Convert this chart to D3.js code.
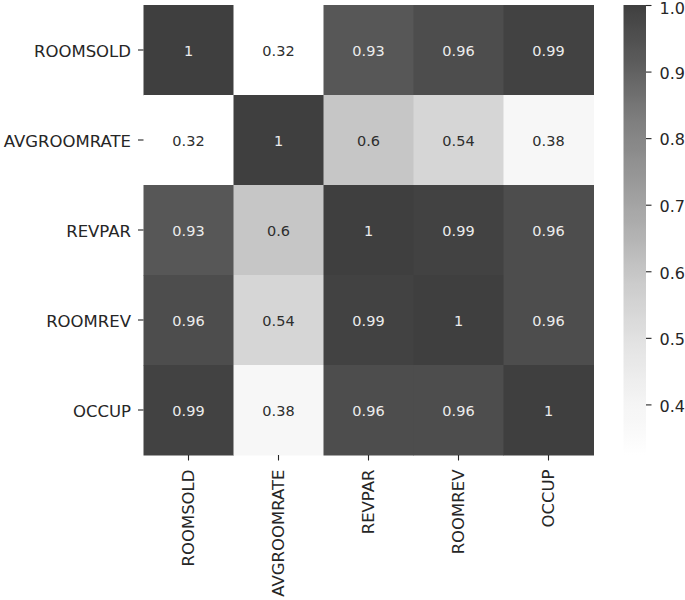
<!DOCTYPE html>
<html>
<head>
<meta charset="utf-8">
<script src="https://cdn.jsdelivr.net/npm/d3@7"></script>
<style>
  html, body { margin: 0; padding: 0; background: #ffffff; }
  svg { display: block; font-family: "DejaVu Sans", sans-serif; }
</style>
</head>
<body>
<svg id="chart" width="685" height="600"></svg>
<script>
// ---- data ----
const labels = ["ROOMSOLD", "AVGROOMRATE", "REVPAR", "ROOMREV", "OCCUP"];
const rowROOMSOLD    = [1, 0.32, 0.93, 0.96, 0.99];
const rowAVGROOMRATE = [0.32, 1, 0.6, 0.54, 0.38];
const rowREVPAR      = [0.93, 0.6, 1, 0.99, 0.96];
const rowROOMREV     = [0.96, 0.54, 0.99, 1, 0.96];
const rowOCCUP       = [0.99, 0.38, 0.96, 0.96, 1];
const colorbarTicks = [0.4, 0.5, 0.6, 0.7, 0.8, 0.9, 1.0];

const matrix = [rowROOMSOLD, rowAVGROOMRATE, rowREVPAR, rowROOMREV, rowOCCUP];
const cells = [];
matrix.forEach((row, r) => row.forEach((v, c) => cells.push({ row: labels[r], col: labels[c], v })));

// ---- layout ----
const svg = d3.select("#chart");
const plotLeft = 143.5, plotTop = 5, plotSize = 450;
const vmin = 0.324, vmax = 1.0;
const tickLen = 5.5;
const textColor = "#262626";

// matplotlib Greys colormap, drawn at alpha 0.75 over white
const greysStops = ["#ffffff", "#f0f0f0", "#d9d9d9", "#bdbdbd", "#969696", "#737373", "#525252", "#252525", "#000000"];
const greys = d3.scaleLinear()
  .domain(d3.range(greysStops.length).map(i => i / (greysStops.length - 1)))
  .range(greysStops)
  .interpolate(d3.interpolateRgb)
  .clamp(true);
const norm = d3.scaleLinear().domain([vmin, vmax]).range([0, 1]).clamp(true);
function colorOf(v) {
  const c = d3.rgb(greys(norm(v)));
  const a = 0.75;
  return d3.rgb(253 - a * (253 - c.r), 253 - a * (253 - c.g), 253 - a * (253 - c.b)).formatHex();
}
function lum(hex) {
  const c = d3.rgb(hex);
  const f = t => { t /= 255; return t <= 0.03928 ? t / 12.92 : Math.pow((t + 0.055) / 1.055, 2.4); };
  return 0.2126 * f(c.r) + 0.7152 * f(c.g) + 0.0722 * f(c.b);
}

const x = d3.scaleBand().domain(labels).range([plotLeft, plotLeft + plotSize]);
const y = d3.scaleBand().domain(labels).range([plotTop, plotTop + plotSize]);

// ---- cells ----
svg.append("g").selectAll("rect").data(cells).join("rect")
  .attr("x", d => x(d.col))
  .attr("y", d => y(d.row))
  .attr("width", x.bandwidth() + 0.5)
  .attr("height", y.bandwidth() + 0.5)
  .attr("fill", d => colorOf(d.v));

svg.append("g").selectAll("text").data(cells).join("text")
  .attr("x", d => x(d.col) + x.bandwidth() / 2)
  .attr("y", d => y(d.row) + y.bandwidth() / 2 + 0.5)
  .attr("text-anchor", "middle")
  .attr("dominant-baseline", "central")
  .attr("font-size", 14.5)
  .attr("fill", d => lum(colorOf(d.v)) > 0.408 ? "#2e2e2e" : "#ececec")
  .text(d => d3.format(".2~g")(d.v));

// ---- axes ----
const yAxis = d3.axisLeft(y).tickSize(tickLen).tickPadding(7);
const gy = svg.append("g").attr("transform", `translate(${plotLeft},0)`).call(yAxis);
gy.select(".domain").remove();
gy.selectAll(".tick line").attr("stroke", textColor).attr("stroke-width", 1.1);
gy.selectAll(".tick text").attr("font-size", 16.5).attr("fill", textColor)
  .attr("font-family", "DejaVu Sans").attr("dy", "0.4em");

const xAxis = d3.axisBottom(x).tickSize(tickLen).tickPadding(9);
const gx = svg.append("g").attr("transform", `translate(0,${plotTop + plotSize})`).call(xAxis);
gx.select(".domain").remove();
gx.selectAll(".tick line").attr("stroke", textColor).attr("stroke-width", 1.1);
gx.selectAll(".tick text")
  .attr("font-size", 16.5).attr("fill", textColor).attr("font-family", "DejaVu Sans")
  .attr("text-anchor", "end")
  .attr("dy", null)
  .attr("dominant-baseline", "central")
  .attr("transform", `translate(0, ${tickLen + 9}) rotate(-90)`)
  .attr("x", 0).attr("y", 0);

// ---- colorbar ----
const cbX = 623.5, cbW = 22.5;
const cbScale = d3.scaleLinear().domain([vmin, vmax]).range([plotTop + plotSize, plotTop]);
const defs = svg.append("defs");
const grad = defs.append("linearGradient").attr("id", "cbgrad")
  .attr("x1", 0).attr("y1", 1).attr("x2", 0).attr("y2", 0);
d3.range(0, 1.0001, 0.02).forEach(t => {
  grad.append("stop").attr("offset", t).attr("stop-color", colorOf(vmin + t * (vmax - vmin)));
});
svg.append("rect")
  .attr("x", cbX).attr("y", plotTop)
  .attr("width", cbW).attr("height", plotSize)
  .attr("fill", "url(#cbgrad)");

const cAxis = d3.axisRight(cbScale).tickValues(colorbarTicks).tickFormat(d3.format(".1f"))
  .tickSize(tickLen).tickPadding(8);
const gc = svg.append("g").attr("transform", `translate(${cbX + cbW},0)`).call(cAxis);
gc.select(".domain").remove();
gc.selectAll(".tick line").attr("stroke", textColor).attr("stroke-width", 1.1);
gc.selectAll(".tick text").attr("font-size", 16).attr("fill", textColor)
  .attr("font-family", "DejaVu Sans")
  .attr("dy", d => d === 1.0 ? "0.52em" : "0.42em");
</script>
</body>
</html>
